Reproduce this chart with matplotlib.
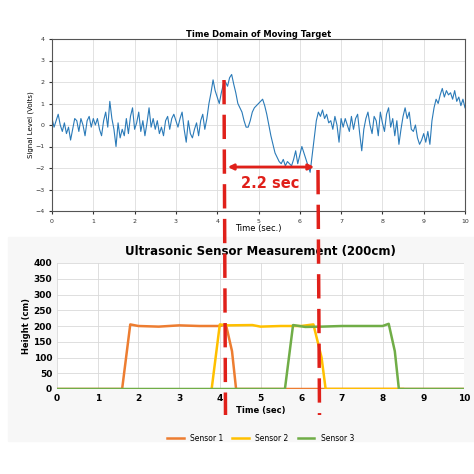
import numpy as np
import matplotlib
matplotlib.use("Agg")
import matplotlib.pyplot as plt
from matplotlib.patches import Rectangle, FancyArrowPatch
from matplotlib.lines import Line2D

# top panel: radar signal (volts), sampled every 0.05 s
signal = [0.3, -0.1, 0.2, 0.5, 0.0, -0.3, 0.1, -0.4, -0.1, -0.7, -0.2, 0.3, 0.2, -0.3, 0.3, 0.0, -0.5, 0.2, 0.4, -0.1, 0.3,
          0.0, 0.3, -0.2, -0.5, 0.2, 0.6, -0.1, 1.1, 0.3, -0.2, -1.0, 0.1, -0.6, -0.2, -0.5, 0.3, -0.4, 0.4, 0.8, -0.2,
          0.1, 0.6, -0.3, 0.2, -0.5, 0.1, 0.8, -0.1, 0.3, -0.2, 0.2, -0.4, -0.1, -0.5, 0.2, 0.4, -0.2, 0.3, 0.5, 0.2,
          -0.1, 0.3, 0.6, -0.2, -0.8, 0.2, -0.4, -0.6, -0.2, 0.1, -0.5, 0.2, 0.5, -0.2, 0.3, 1.0, 1.5, 2.1, 1.6, 1.3,
          1.0, 1.5, 1.9, 2.0, 1.8, 2.2, 2.35, 1.9, 1.5, 1.0, 0.8, 0.6, 0.2, -0.1, -0.1, 0.2, 0.6, 0.8, 0.9, 1.0,
          1.1, 1.2, 0.9, 0.5, 0.0, -0.5, -0.9, -1.3, -1.5, -1.7, -1.8, -1.6, -1.9, -1.7, -1.8, -1.9, -1.6, -1.2, -1.8, -1.4,
          -1.0, -1.3, -1.6, -1.9, -2.2, -1.4, -0.6, 0.2, 0.6, 0.4, 0.7, 0.3, 0.5, 0.1, 0.2, -0.2, 0.4, 0.0, -0.8, 0.3,
          -0.1, 0.3, 0.0, -0.3, 0.4, -0.2, 0.3, 0.5, -0.4, -1.2, -0.2, 0.3, 0.6, 0.0, -0.4, 0.4, 0.2, -0.5, 0.6, 0.1,
          -0.3, 0.5, 0.8, -0.1, 0.3, -0.5, 0.2, -0.9, -0.2, 0.4, 0.8, 0.3, 0.6, -0.2, -0.3, 0.0, -0.6, -0.9, -0.7, -0.4,
          -0.8, -0.3, -0.9, 0.2, 0.8, 1.2, 1.0, 1.4, 1.7, 1.3, 1.6, 1.4, 1.5, 1.2, 1.6, 1.1, 1.3, 0.9, 1.2, 0.8]
t_signal = np.linspace(0, 10, len(signal))

# bottom panel: ultrasonic sensors (cm)
s1_t = [0, 1.6, 1.8, 2.0, 2.5, 3.0, 3.5, 4.0, 4.15, 4.3, 4.4, 10]
s1_h = [0, 0, 205, 200, 198, 202, 200, 200, 205, 120, 0, 0]
s2_t = [3.8, 4.0, 4.2, 4.8, 5.0, 5.5, 6.0, 6.3, 6.5, 6.6, 8.5]
s2_h = [0, 205, 202, 203, 198, 200, 200, 205, 100, 0, 0]
s3_t = [0, 5.6, 5.8, 6.1, 6.5, 7.0, 8.0, 8.15, 8.3, 8.4, 10]
s3_h = [0, 0, 203, 197, 198, 200, 200, 207, 120, 0, 0]

W = 474
fig = plt.figure(figsize=(4.74, 4.74), dpi=100)

def box(l, t, r, b):
    return [l / W, 1 - b / W, (r - l) / W, (b - t) / W]

# top: matlab-style plot
ax1 = fig.add_axes(box(52, 39, 465, 211))
ax1.plot(t_signal, signal, color="#2a7ab8", lw=0.8)
ax1.set_xlim(0, 10)
ax1.set_ylim(-4, 4)
ax1.set_xticks(range(11))
ax1.set_yticks(range(-4, 5))
ax1.grid(True, color="#dddddd", lw=0.6)
for s in ax1.spines.values():
    s.set_color("#555555")
ax1.tick_params(labelsize=4.5, length=2, colors="#333333")
ax1.set_title("Time Domain of Moving Target", fontsize=6, fontweight="bold", pad=1)
ax1.set_xlabel("Time (sec.)", fontsize=6, labelpad=0)
ax1.set_ylabel("Signal Level (Volts)", fontsize=5, labelpad=1)

# bottom: excel-style chart on light panel
fig.patches.append(Rectangle((8 / W, 1 - 441 / W), 466 / W, 204 / W,
                             transform=fig.transFigure, color="#f7f7f7", zorder=-1))
ax2 = fig.add_axes(box(57, 263, 464, 389))
ax2.set_facecolor("white")
ax2.plot(s1_t, s1_h, color="#ED7D31", lw=1.8, label="Sensor 1")
ax2.plot(s2_t, s2_h, color="#FFC000", lw=1.8, label="Sensor 2")
ax2.plot(s3_t, s3_h, color="#70AD47", lw=1.8, label="Sensor 3")
ax2.set_xlim(0, 10)
ax2.set_ylim(0, 400)
ax2.set_xticks(range(11))
ax2.set_yticks(range(0, 401, 50))
ax2.grid(True, color="#d9d9d9", lw=0.6)
for s in ax2.spines.values():
    s.set_visible(False)
ax2.tick_params(length=0, labelsize=6.5)
for lab in ax2.get_xticklabels() + ax2.get_yticklabels():
    lab.set_fontweight("bold")
ax2.set_title("Ultrasonic Sensor Measurement (200cm)", fontsize=8.5, fontweight="bold", pad=6)
ax2.set_xlabel("Time (sec)", fontsize=6, fontweight="bold", labelpad=2)
ax2.set_ylabel("Height (cm)", fontsize=6, fontweight="bold", labelpad=2)
ax2.legend(loc="upper center", bbox_to_anchor=(0.5, -0.3), ncol=3, frameon=False,
           fontsize=5.5, handlelength=2.2, columnspacing=1.2)

# red annotation spanning both panels
red = "#e0201a"
for x, y0 in [(224, 80), (318, 170)]:
    fig.add_artist(Line2D([x / W, (x + 1.5) / W], [1 - y0 / W, 1 - 415 / W], color=red,
                          lw=2.5, ls=(0, (7, 3))))
fig.add_artist(FancyArrowPatch((225 / W, 1 - 167 / W), (317 / W, 1 - 167 / W),
                               transform=fig.transFigure, arrowstyle="<|-|>",
                               mutation_scale=8, color=red, lw=2))
fig.text(270 / W, 1 - 183 / W, "2.2 sec", color=red, fontsize=10.5, fontweight="bold",
         ha="center", va="center")

fig.savefig("out.png", dpi=100, facecolor="white")
